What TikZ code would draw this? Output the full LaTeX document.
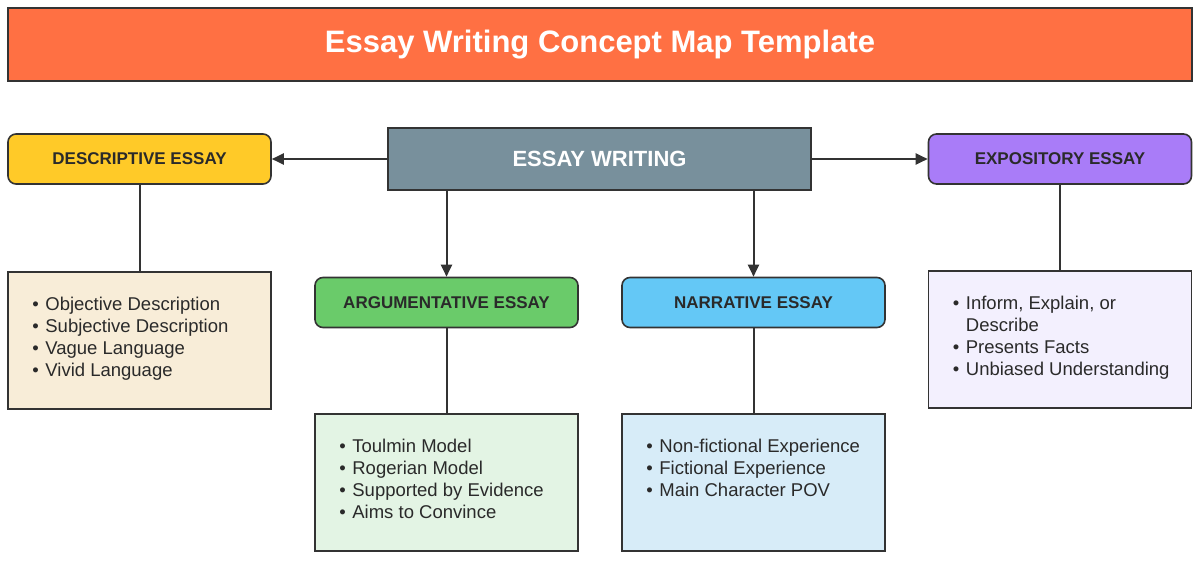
\documentclass[tikz,border=0pt]{standalone}
\usepackage{fontspec}
\setmainfont{Liberation Sans}
\usetikzlibrary{arrows.meta}
\definecolor{titlefill}{HTML}{FF7043}
\definecolor{centerfill}{HTML}{78909C}
\definecolor{yellowfill}{HTML}{FFCA28}
\definecolor{purplefill}{HTML}{A97CF8}
\definecolor{greenfill}{HTML}{6ACB6A}
\definecolor{bluefill}{HTML}{64C8F6}
\definecolor{beigelist}{HTML}{F8EDD8}
\definecolor{greenlist}{HTML}{E3F4E4}
\definecolor{bluelist}{HTML}{D7ECF8}
\definecolor{purplelist}{HTML}{F3F0FE}
\definecolor{ink}{HTML}{2A2A2A}
\definecolor{edge}{HTML}{333333}
\newcommand{\bl}{\makebox[13pt][l]{•}}
\begin{document}
\begin{tikzpicture}[x=1pt,y=-1pt,
  box/.style={draw=edge,line width=1.6pt,inner sep=0pt,minimum width=#1},
  cat/.style={box=263pt,minimum height=50pt,rounded corners=8pt,text=ink,font=\bfseries\fontsize{17}{20}\selectfont},
  listbox/.style={box=263pt,minimum height=137pt},
  listtext/.style={anchor=north west,inner sep=0pt,align=left,text=ink,font=\fontsize{18.5}{22}\selectfont},
  conn/.style={draw=edge,line width=2pt},
  arr/.style={conn,-{Triangle[length=12pt,width=11pt]}}]
\useasboundingbox (0,0) rectangle (1200,560);
% title
\node[draw=edge,line width=1.6pt,fill=titlefill,minimum width=1184pt,minimum height=73pt,inner sep=0pt,
  text=white,font=\bfseries\fontsize{31}{36}\selectfont] (title) at (600,44.5) {Essay Writing Concept Map Template};
% central
\node[box=423pt,minimum height=62pt,fill=centerfill,text=white,font=\bfseries\fontsize{22}{26}\selectfont] (center) at (599.5,159) {ESSAY WRITING};
% categories
\node[cat,fill=yellowfill] (desc) at (139.5,159) {DESCRIPTIVE ESSAY};
\node[cat,fill=purplefill] (expo) at (1060,159) {EXPOSITORY ESSAY};
\node[cat,fill=greenfill] (argu) at (446.5,302.5) {ARGUMENTATIVE ESSAY};
\node[cat,fill=bluefill] (narr) at (753.5,302.5) {NARRATIVE ESSAY};
% list boxes
\node[listbox,fill=beigelist] (descl) at (139.5,340.5) {};
\node[listbox,fill=greenlist] (argul) at (446.5,482.5) {};
\node[listbox,fill=bluelist] (narrl) at (753.5,482.5) {};
\node[listbox,fill=purplelist] (expol) at (1060,339.5) {};
% list texts
\node[listtext] (desct) at ([xshift=25pt,yshift=-26pt]descl.north west) {\bl Objective Description\\\bl Subjective Description\\\bl Vague Language\\\bl Vivid Language};
\node[listtext] (argut) at ([xshift=25pt,yshift=-26pt]argul.north west) {\bl Toulmin Model\\\bl Rogerian Model\\\bl Supported by Evidence\\\bl Aims to Convince};
\node[listtext] (narrt) at ([xshift=25pt,yshift=-26pt]narrl.north west) {\bl Non-fictional Experience\\\bl Fictional Experience\\\bl Main Character POV};
\node[listtext] (expot) at ([xshift=25pt,yshift=-26pt]expol.north west) {\bl Inform, Explain, or\\\hspace*{13pt}Describe\\\bl Presents Facts\\\bl Unbiased Understanding};
% connectors
\draw[arr] (center.west) -- (desc.east);
\draw[arr] (center.east) -- (expo.west);
\draw[arr] (center.south -| argu.north) -- (argu.north);
\draw[arr] (center.south -| narr.north) -- (narr.north);
\draw[conn] (desc.south) -- (descl.north);
\draw[conn] (expo.south) -- (expol.north);
\draw[conn] (argu.south) -- (argul.north);
\draw[conn] (narr.south) -- (narrl.north);
\end{tikzpicture}
\end{document}
